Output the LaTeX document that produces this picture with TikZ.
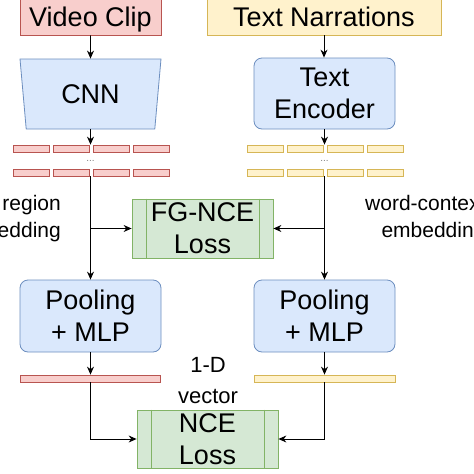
\documentclass[tikz,border=0pt]{standalone}
\usepackage{fontspec}
\setmainfont{Liberation Sans}
\usetikzlibrary{arrows.meta, shapes.geometric}

\definecolor{redfill}{HTML}{F8CECC}
\definecolor{redline}{HTML}{B85450}
\definecolor{bluefill}{HTML}{DAE8FC}
\definecolor{blueline}{HTML}{6C8EBF}
\definecolor{yellowfill}{HTML}{FFF2CC}
\definecolor{yellowline}{HTML}{D6B656}
\definecolor{greenfill}{HTML}{D5E8D4}
\definecolor{greenline}{HTML}{82B366}

\tikzset{
    box/.style={draw, line width=0.8pt, minimum width=141pt, inner sep=0pt,
        align=center, font=\fontsize{27}{32}\selectfont},
    redbox/.style={box, fill=redfill, draw=redline},
    yellowbox/.style={box, fill=yellowfill, draw=yellowline},
    bluebox/.style={box, fill=bluefill, draw=blueline, rounded corners=8pt},
    greenbox/.style={box, fill=greenfill, draw=greenline},
    redvec/.style={draw=redline, fill=redfill, line width=0.8pt, inner sep=0pt, minimum height=7pt},
    yellowvec/.style={draw=yellowline, fill=yellowfill, line width=0.8pt, inner sep=0pt, minimum height=7pt},
    arr/.style={-{Stealth[length=8pt, width=7pt]}, line width=0.9pt},
    lbl/.style={inner sep=0pt, align=right, font=\fontsize{21}{27}\selectfont},
    dotsym/.style={inner sep=0pt, text=gray, font=\fontsize{10}{10}\selectfont}
}

\begin{document}
\begin{tikzpicture}[x=1pt, y=-1pt]
    \useasboundingbox (0, 0) rectangle (474, 474);

    \node[redbox, minimum height=37pt, text depth=0pt] (vid) at (90.5, 16.5) {Video Clip};
    \node[yellowbox, minimum width=234pt, minimum height=37pt] (nar) at (324, 16.5) {Text Narrations};

    \node[box, fill=bluefill, draw=blueline, trapezium, shape border rotate=180,
        trapezium angle=72, trapezium stretches body, minimum height=70pt] (cnn) at (90.5, 94) {CNN};
    \node[bluebox, minimum height=71pt] (enc) at (324.5, 93.5) {Text\\Encoder};

    \foreach \i in {0, 1, 2, 3} {
        \node[redvec, minimum width=36pt] (rt\i) at (31+40*\i, 148.5) {};
        \node[redvec, minimum width=36pt] (rb\i) at (31+40*\i, 172.5) {};
        \node[yellowvec, minimum width=36pt] (yt\i) at (265+40*\i, 148.5) {};
        \node[yellowvec, minimum width=36pt] (yb\i) at (265+40*\i, 172.5) {};
    }
    \node[dotsym] (rdots) at (90.5, 161) {...};
    \node[dotsym] (ydots) at (324.5, 161) {...};

    \node[lbl, anchor=east] (reg) at (61, 219) {region\\embedding};
    \node[lbl, anchor=west] (word) at (365, 219) {word-context\\embedding};

    \node[greenbox, minimum height=59pt] (fg) at (202.5, 228.5) {FG-NCE\\Loss};
    \draw[greenline, line width=0.8pt] ([xshift=15pt]fg.north west) -- ([xshift=15pt]fg.south west);
    \draw[greenline, line width=0.8pt] ([xshift=-14pt]fg.north east) -- ([xshift=-14pt]fg.south east);

    \node[bluebox, minimum height=72pt] (poolv) at (90.5, 316) {Pooling\\+ MLP};
    \node[bluebox, minimum height=72pt] (poolt) at (324.5, 316) {Pooling\\+ MLP};

    \node[redvec, minimum width=140pt] (vecv) at (90.5, 378.5) {};
    \node[yellowvec, minimum width=141pt] (vect) at (324.5, 378.5) {};

    \node[inner sep=0pt, align=center, font=\fontsize{22}{31}\selectfont] (onedim) at (208, 381) {1-D\\vector};

    \node[greenbox, minimum height=58pt] (nce) at (207.5, 439) {NCE\\Loss};
    \draw[greenline, line width=0.8pt] ([xshift=15pt]nce.north west) -- ([xshift=15pt]nce.south west);
    \draw[greenline, line width=0.8pt] ([xshift=-14pt]nce.north east) -- ([xshift=-14pt]nce.south east);

    \draw[arr] (vid) -- (cnn);
    \draw[arr] (nar.south) -- (nar.south |- enc.north);
    \draw[arr] (cnn.south) -- (cnn.south |- rt1.north);
    \draw[arr] (enc.south) -- (enc.south |- yt1.north);
    \draw[arr] (cnn.south |- rb1.south) -- (cnn.south |- poolv.north);
    \draw[arr] (enc.south |- yb1.south) -- (poolt.north);
    \draw[arr] (cnn.south |- fg.west) -- (fg.west);
    \draw[arr] (enc.south |- fg.east) -- (fg.east);
    \draw[arr] (poolv.south) -- (poolv.south |- vecv.north);
    \draw[arr] (poolt.south) -- (poolt.south |- vect.north);
    \draw[arr] (vecv.south) |- (nce.west);
    \draw[arr] (vect.south) |- (nce.east);
\end{tikzpicture}
\end{document}
